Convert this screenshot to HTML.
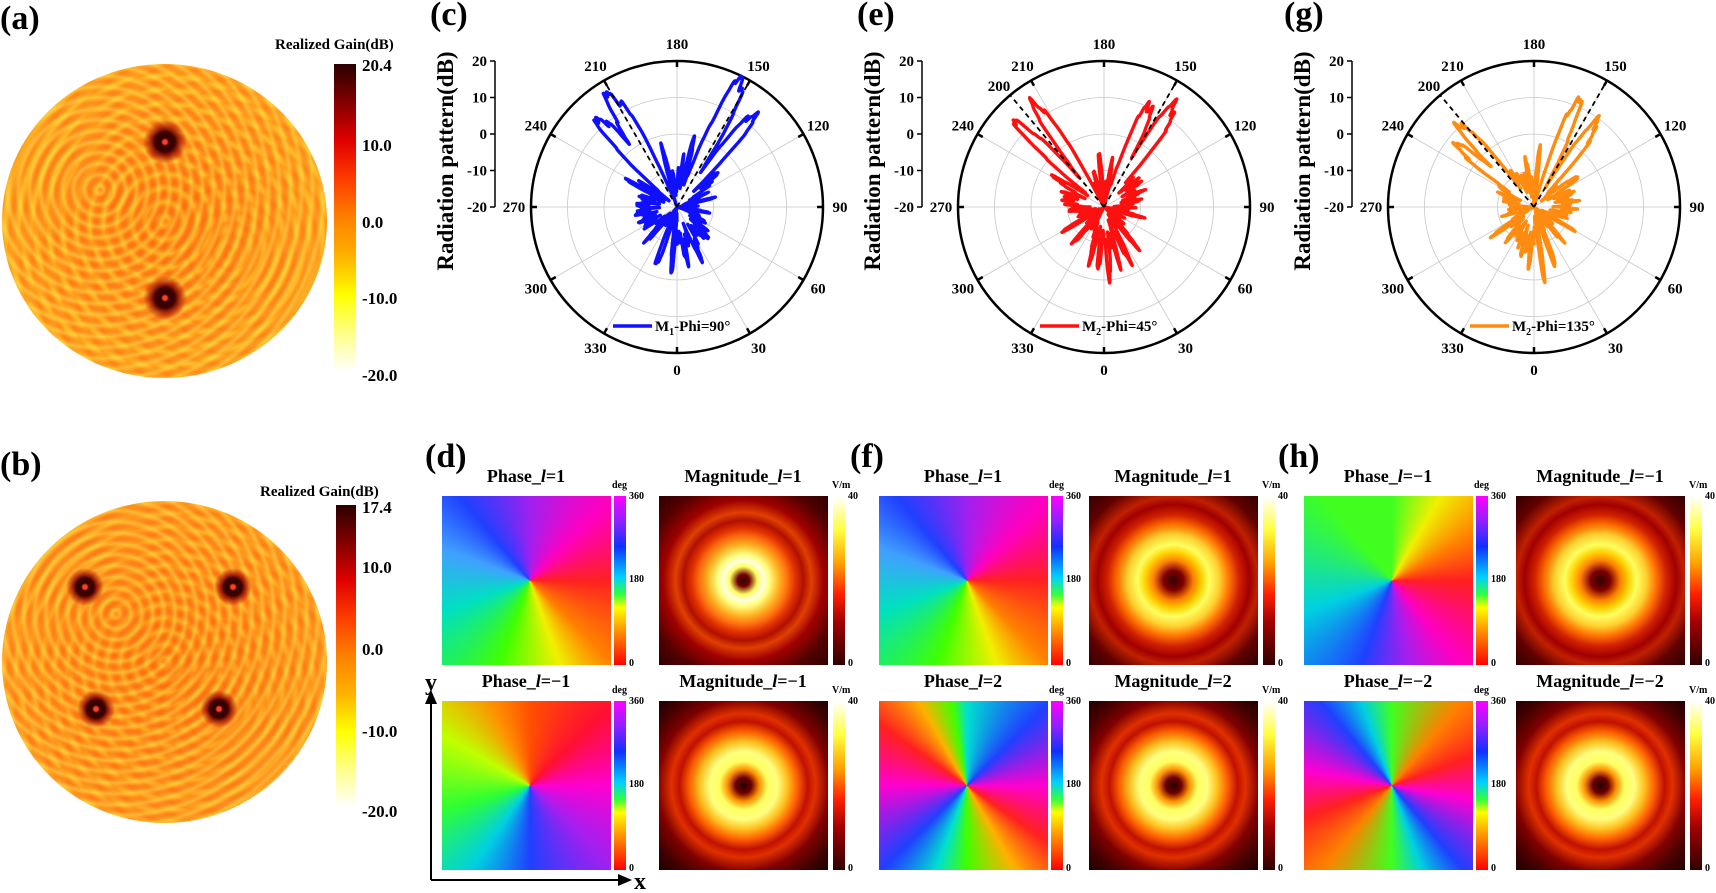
<!DOCTYPE html>
<html><head><meta charset="utf-8">
<style>
body{margin:0;width:1716px;height:893px;background:#fff;position:relative;overflow:hidden;font-family:"Liberation Serif",serif;font-weight:bold;color:#000}
.a{position:absolute}
.lbl{position:absolute;font-size:34px;font-weight:bold}
.disk{position:absolute;border-radius:50%}
.cb{position:absolute}
.t{position:absolute;font-size:15px;white-space:nowrap}
.s{position:absolute;font-size:10px;white-space:nowrap}
.ttl{position:absolute;font-size:18px;white-space:nowrap;text-align:center;width:220px}
.img{position:absolute;width:169px;height:169px}
.gain{background:linear-gradient(to bottom,#2a0000 0%,#800000 12%,#e00000 25%,#ff4000 38%,#ff8000 50%,#ffb000 62%,#ffff00 75%,#ffff90 88%,#ffffff 100%)}
.phcb{background:linear-gradient(to bottom,#ff00ff 0%,#9020ff 15%,#1030ff 30%,#00d0ff 48%,#30ff40 58%,#ffff00 66%,#ff9000 80%,#ff0000 100%)}
.mgcb{background:linear-gradient(to bottom,#ffffff 0%,#ffff40 20%,#ffa000 40%,#ff2000 58%,#a00000 75%,#300000 100%)}
</style></head><body>

<div class="lbl" style="left:0;top:0">(a)</div>
<div class="lbl" style="left:0;top:446px">(b)</div>
<div class="lbl" style="left:430px;top:-4px">(c)</div>
<div class="lbl" style="left:857px;top:-4px">(e)</div>
<div class="lbl" style="left:1284px;top:-4px">(g)</div>
<div class="lbl" style="left:425px;top:438px">(d)</div>
<div class="lbl" style="left:850px;top:438px">(f)</div>
<div class="lbl" style="left:1278px;top:438px">(h)</div>

<!-- (a) disk -->
<div class="disk" style="left:2px;top:64px;width:325px;height:314px;background:
radial-gradient(circle at 163px 78px,#ff4020 0,#ff4020 2px,#300000 4px,#400000 10px,rgba(150,0,0,.7) 15px,rgba(255,80,0,0) 22px),
radial-gradient(circle at 163px 234px,#ff4020 0,#ff4020 2px,#300000 4px,#400000 10px,rgba(150,0,0,.7) 15px,rgba(255,80,0,0) 22px),
repeating-radial-gradient(circle at 30% 40%,rgba(255,240,80,0) 0px,rgba(255,240,80,.45) 4px,rgba(255,240,80,0) 8px,rgba(255,240,80,0) 11px),
repeating-radial-gradient(circle at 70% 60%,rgba(255,100,0,0) 0px,rgba(255,100,0,.35) 5px,rgba(255,100,0,0) 9px,rgba(255,100,0,0) 12px),
repeating-radial-gradient(circle at 50% 50%,rgba(255,225,50,0) 0px,rgba(255,225,50,.55) 5px,rgba(255,225,50,0) 10px,rgba(255,225,50,0) 14px),
radial-gradient(circle,#ff7010 0,#ff8018 35%,#ff9a20 75%,#ffc030 100%)"></div>
<div class="t" style="left:275px;top:37px">Realized Gain(dB)</div>
<div class="cb gain" style="left:334px;top:64px;width:22px;height:308px"></div>
<div class="t" style="left:362px;top:56px;font-size:17px">20.4</div>
<div class="t" style="left:362px;top:136px;font-size:17px">10.0</div>
<div class="t" style="left:362px;top:213px;font-size:17px">0.0</div>
<div class="t" style="left:362px;top:289px;font-size:17px">-10.0</div>
<div class="t" style="left:362px;top:366px;font-size:17px">-20.0</div>

<!-- (b) disk -->
<div class="disk" style="left:2px;top:501px;width:325px;height:322px;background:
radial-gradient(circle at 83px 86px,#ff4020 0,#ff4020 2px,#300000 4px,#400000 9px,rgba(150,0,0,.7) 13px,rgba(255,80,0,0) 19px),
radial-gradient(circle at 231px 86px,#ff4020 0,#ff4020 2px,#300000 4px,#400000 9px,rgba(150,0,0,.7) 13px,rgba(255,80,0,0) 19px),
radial-gradient(circle at 94px 208px,#ff4020 0,#ff4020 2px,#300000 4px,#400000 9px,rgba(150,0,0,.7) 13px,rgba(255,80,0,0) 19px),
radial-gradient(circle at 217px 208px,#ff4020 0,#ff4020 2px,#300000 4px,#400000 9px,rgba(150,0,0,.7) 13px,rgba(255,80,0,0) 19px),
repeating-radial-gradient(circle at 35% 35%,rgba(255,240,80,0) 0px,rgba(255,240,80,.45) 4px,rgba(255,240,80,0) 8px,rgba(255,240,80,0) 11px),
repeating-radial-gradient(circle at 65% 65%,rgba(255,100,0,0) 0px,rgba(255,100,0,.35) 5px,rgba(255,100,0,0) 9px,rgba(255,100,0,0) 12px),
repeating-radial-gradient(circle at 50% 50%,rgba(255,215,50,0) 0px,rgba(255,215,50,.5) 5px,rgba(255,215,50,0) 10px,rgba(255,215,50,0) 13px),
radial-gradient(circle,#ff7010 0,#ff8018 45%,#ff9020 80%,#ffb030 100%)"></div>
<div class="t" style="left:260px;top:484px">Realized Gain(dB)</div>
<div class="cb gain" style="left:336px;top:505px;width:20px;height:302px"></div>
<div class="t" style="left:362px;top:498px;font-size:17px">17.4</div>
<div class="t" style="left:362px;top:558px;font-size:17px">10.0</div>
<div class="t" style="left:362px;top:640px;font-size:17px">0.0</div>
<div class="t" style="left:362px;top:722px;font-size:17px">-10.0</div>
<div class="t" style="left:362px;top:802px;font-size:17px">-20.0</div>

<div id="bottom"></div>

<svg id="sv" class="a" style="left:0;top:0" width="1716" height="893"></svg>

<script>
(function(){
var B=document.getElementById('bottom'),h='';
function ph(x,y,stops){return '<div class="img" style="left:'+x+'px;top:'+y+'px;background:conic-gradient(from 0deg at 52% 50%,'+stops+')"></div>';}
function mg(x,y,st){return '<div class="img" style="left:'+x+'px;top:'+y+'px;background:radial-gradient(circle at 50% 50%,'+st+')"></div>';}
var P1='#a020f0 0deg,#ff00c0 45deg,#ff2020 90deg,#ff8000 135deg,#f0f000 160deg,#40ff00 200deg,#00e0c0 250deg,#40a0ff 290deg,#2040ff 320deg,#a020f0 360deg';
var PM1='#ff5000 0deg,#ff1030 45deg,#ff00d0 90deg,#a020f0 135deg,#2040ff 180deg,#00d0e0 215deg,#30ff30 255deg,#c0ff00 300deg,#ff9000 335deg,#ff5000 360deg';
var P2='#00e0d0 0deg,#2040ff 45deg,#ff00d0 90deg,#ff2020 125deg,#ffb000 150deg,#40ff00 180deg,#00e0d0 200deg,#2040ff 225deg,#ff00d0 270deg,#ff2020 305deg,#ffb000 330deg,#40ff00 350deg,#00e0d0 360deg';
var HM1='#40ff20 0deg,#f0f000 30deg,#ff8000 60deg,#ff2020 90deg,#ff00c0 140deg,#a020f0 170deg,#2040ff 200deg,#00d0e0 250deg,#40ff20 320deg,#40ff20 360deg';
var HM2='#40ff20 0deg,#ff8000 40deg,#ff2020 70deg,#ff00d0 100deg,#2040ff 140deg,#00d0e0 160deg,#40ff20 180deg,#ff8000 220deg,#ff2020 250deg,#ff00d0 280deg,#2040ff 320deg,#00d0e0 340deg,#40ff20 360deg';
var M1='#300000 0,#700000 6px,#ffff60 14px,#ffffe0 20px,#ffff80 26px,#ffb020 36px,#ff7010 44px,#e03000 52px,#b01000 60px,#e04000 68px,#a00000 80px,#500000 100px,#300000 120px';
var M2='#300000 0,#800000 10px,#ff8000 20px,#ffd000 28px,#ffff60 36px,#ffd030 46px,#ff7000 56px,#d02000 66px,#a00000 76px,#c02000 84px,#600000 100px,#300000 120px';
var M3='#200000 0,#700000 8px,#ff9000 16px,#ffff60 24px,#ffff80 34px,#ffc020 44px,#ff6000 54px,#c01000 64px,#e03000 72px,#800000 86px,#400000 104px,#200000 120px';
var rows=[[496,486],[701,691]];
var cols=[442,879,1304], mgx=[659,1089,1516];
var phs=[[P1,PM1],[P1,P2],[HM1,HM2]];
var mgs=[[M1,M3],[M2,M3],[M2,M3]];
var tp=[['Phase_<i>l</i>=1','Phase_<i>l</i>=−1'],['Phase_<i>l</i>=1','Phase_<i>l</i>=2'],['Phase_<i>l</i>=−1','Phase_<i>l</i>=−2']];
var tm=[['Magnitude_<i>l</i>=1','Magnitude_<i>l</i>=−1'],['Magnitude_<i>l</i>=1','Magnitude_<i>l</i>=2'],['Magnitude_<i>l</i>=−1','Magnitude_<i>l</i>=−2']];
for(var c=0;c<3;c++)for(var r=0;r<2;r++){
 var y=rows[r][0],x=cols[c],mx=mgx[c];
 h+=ph(x,y,phs[c][r])+mg(mx,y,mgs[c][r]);
 h+='<div class="ttl" style="left:'+(x+84-110)+'px;top:'+(y-30)+'px">'+tp[c][r]+'</div>';
 h+='<div class="ttl" style="left:'+(mx+84-110)+'px;top:'+(y-30)+'px">'+tm[c][r]+'</div>';
 h+='<div class="cb phcb" style="left:'+(x+172)+'px;top:'+y+'px;width:12px;height:169px"></div>';
 h+='<div class="s" style="left:'+(x+170)+'px;top:'+(y-16)+'px">deg</div>';
 h+='<div class="s" style="left:'+(x+187)+'px;top:'+(y-5)+'px">360</div>';
 h+='<div class="s" style="left:'+(x+187)+'px;top:'+(y+78)+'px">180</div>';
 h+='<div class="s" style="left:'+(x+187)+'px;top:'+(y+162)+'px">0</div>';
 h+='<div class="cb mgcb" style="left:'+(mx+174)+'px;top:'+y+'px;width:12px;height:169px"></div>';
 h+='<div class="s" style="left:'+(mx+173)+'px;top:'+(y-16)+'px">V/m</div>';
 h+='<div class="s" style="left:'+(mx+189)+'px;top:'+(y-5)+'px">40</div>';
 h+='<div class="s" style="left:'+(mx+189)+'px;top:'+(y+162)+'px">0</div>';
}
B.innerHTML=h;

var S='';
S+='<line x1="431" y1="880" x2="431" y2="702" stroke="#000" stroke-width="2"/><polygon points="425,704 437,704 431,690" fill="#000"/>';
S+='<line x1="431" y1="880" x2="620" y2="880" stroke="#000" stroke-width="2"/><polygon points="618,874 618,886 632,880" fill="#000"/>';
S+='<text x="425" y="690" font-size="24" font-weight="bold">y</text><text x="634" y="889" font-size="24" font-weight="bold">x</text>';

function polar(cx,cy,color,lobes,dashes,leg,sub,seed,extra200){
 var R=146,s='';
 for(var k=1;k<4;k++)s+='<circle cx="'+cx+'" cy="'+cy+'" r="'+(R*k/4)+'" fill="none" stroke="#c8c8c8" stroke-width="0.8"/>';
 for(var a=0;a<360;a+=30){var t=a*Math.PI/180;
  s+='<line x1="'+cx+'" y1="'+cy+'" x2="'+(cx+R*Math.sin(t))+'" y2="'+(cy+R*Math.cos(t))+'" stroke="#c8c8c8" stroke-width="0.8"/>';
  s+='<line x1="'+(cx+(R-6)*Math.sin(t))+'" y1="'+(cy+(R-6)*Math.cos(t))+'" x2="'+(cx+R*Math.sin(t))+'" y2="'+(cy+R*Math.cos(t))+'" stroke="#000" stroke-width="2.5"/>';
  s+='<text x="'+(cx+163*Math.sin(t))+'" y="'+(cy+163*Math.cos(t)+5)+'" font-size="15" font-weight="bold" text-anchor="middle">'+a+'</text>';
 }
 if(extra200)s+='<text x="'+(cx-105)+'" y="'+(cy-116)+'" font-size="15" font-weight="bold" text-anchor="middle">200</text>';
 s+='<circle cx="'+cx+'" cy="'+cy+'" r="'+R+'" fill="none" stroke="#000" stroke-width="2.5"/>';
 var pts=[];
 for(var i=0;i<=1440;i++){var th=i/4,g=-14+3*Math.sin(th*0.05+seed);
  for(var j=0;j<lobes.length;j++){var d=Math.abs(th-lobes[j][0]);if(d>180)d=360-d;var v=lobes[j][1]-30*(d/lobes[j][2])*(d/lobes[j][2]);if(v>g)g=v;}
  g+=1.5*Math.sin(th*0.5+seed)+1.3*Math.sin(th*1.1+2*seed)+0.9*Math.sin(th*2.3+seed*3)+0.6*Math.sin(th*4.7);
  if(g<-20)g=-20;if(g>20)g=20;
  var r=(g+20)/40*R,t=th*Math.PI/180;
  pts.push((cx+r*Math.sin(t)).toFixed(1)+','+(cy+r*Math.cos(t)).toFixed(1));}
 s+='<polyline points="'+pts.join(' ')+'" fill="none" stroke="'+color+'" stroke-width="3.4" stroke-linejoin="round"/>';
 for(var q=0;q<dashes.length;q++){var t=dashes[q]*Math.PI/180;
  s+='<line x1="'+cx+'" y1="'+cy+'" x2="'+(cx+R*Math.sin(t))+'" y2="'+(cy+R*Math.cos(t))+'" stroke="#000" stroke-width="1.8" stroke-dasharray="5,4"/>';}
 var ax=cx-182;
 s+='<line x1="'+ax+'" y1="'+(cy-R)+'" x2="'+ax+'" y2="'+cy+'" stroke="#000" stroke-width="1.5"/>';
 var lab=['20','10','0','-10','-20'];
 for(var k=0;k<5;k++){var yy=cy-R+k*R/4;
  s+='<line x1="'+(ax-5)+'" y1="'+yy+'" x2="'+ax+'" y2="'+yy+'" stroke="#000" stroke-width="1.5"/>';
  s+='<text x="'+(ax-8)+'" y="'+(yy+5)+'" font-size="15" font-weight="bold" text-anchor="end">'+lab[k]+'</text>';}
 s+='<text transform="translate('+(cx-224)+','+(cy-46)+') rotate(-90)" font-size="23" font-weight="bold" text-anchor="middle">Radiation pattern(dB)</text>';
 s+='<line x1="'+(cx-64)+'" y1="'+(cy+119)+'" x2="'+(cx-25)+'" y2="'+(cy+119)+'" stroke="'+color+'" stroke-width="3.5"/>';
 s+='<text x="'+(cx-22)+'" y="'+(cy+124)+'" font-size="15" font-weight="bold">M<tspan font-size="10" dy="4">'+sub+'</tspan><tspan dy="-4">'+leg+'</tspan></text>';
 return s;
}
var Lc=[[153,18,8],[140,12,7],[211,17,8],[222,14,7],[166,-3,4],[173,-6,3],[194,-4,4],[187,-8,3],[124,-8,6],[130,-5,4],[236,-8,6],[242,-6,4],[105,-12,7],[255,-11,7],[80,-13,8],[280,-12,7],[60,-10,6],[300,-9,6],[45,-7,6],[318,-8,6],[25,-5,6],[340,-4,6],[10,-3,5],[355,-5,5]];
var Le=[[145,15,7],[156,12,7],[214,13,7],[226,12,7],[170,-7,5],[185,-5,4],[196,-8,4],[130,-9,7],[240,-6,9],[258,-8,9],[105,-12,7],[275,-12,6],[90,-14,6],[75,-10,6],[300,-9,6],[320,-6,6],[40,-7,6],[25,-5,6],[345,-3,5],[5,0,5],[355,-2,4],[15,-5,4]];
var Lg=[[157,12,7],[143,10,7],[222,10,7],[231,8,7],[175,-5,4],[190,-7,5],[125,-6,7],[115,-9,5],[240,-9,7],[255,-11,7],[95,-14,7],[285,-13,7],[60,-10,6],[305,-6,6],[320,-8,6],[40,-7,6],[20,-4,5],[355,-3,4],[8,-2,4],[345,-6,4]];
S+=polar(677,207,'#1010ff',Lc,[150,210],'-Phi=90°','1',0.3,false);
S+=polar(1104,207,'#ff1010',Le,[150,220],'-Phi=45°','2',1.7,true);
S+=polar(1534,207,'#ff8c10',Lg,[150,220],'-Phi=135°','2',2.9,true);
document.getElementById('sv').innerHTML=S;
})();
</script>
</body></html>
